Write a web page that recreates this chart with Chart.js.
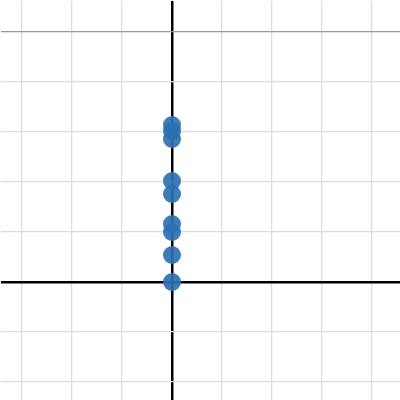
<!DOCTYPE html><html><head><style>html,body{margin:0;padding:0;background:#fff;overflow:hidden}#c{position:absolute;left:-8px;top:-8px;width:418px;height:418px}</style>
<script src="https://cdn.jsdelivr.net/npm/chart.js"></script></head><body><div id="c"><canvas id="cv"></canvas></div><script>
const xValues=[0,0,0,0,0,0,0,0,0];
const yValues=[0,0.54,1.0,1.16,1.76,2.02,2.86,3.02,3.14];
const intTicks=(a)=>{const t=[];for(let v=Math.ceil(a.min);v<=Math.floor(a.max);v++)t.push({value:v});a.ticks=t;};
const lw=c=>Math.abs(c.tick.value)<1e-6?2.5:1.3;
new Chart(document.getElementById('cv'),{type:'scatter',
data:{datasets:[{data:xValues.map((x,i)=>({x,y:yValues[i]})),backgroundColor:'rgba(45,112,179,0.92)',borderWidth:0,pointRadius:9,pointHoverRadius:9}]},
options:{responsive:true,maintainAspectRatio:false,animation:false,layout:{padding:0},
plugins:{legend:{display:false},tooltip:{enabled:false}},
scales:{x:{min:-3.42,max:4.58,afterBuildTicks:intTicks,ticks:{display:false},border:{display:false},
grid:{color:c=>Math.abs(c.tick.value)<1e-6?'#000':'#dcdcdc',lineWidth:lw,drawTicks:false}},
y:{min:-2.38,max:5.62,afterBuildTicks:intTicks,ticks:{display:false},border:{display:false},
grid:{color:c=>{const v=c.tick.value;return Math.abs(v)<1e-6?'#000':(Math.abs(v-5)<1e-6?'#999':'#dcdcdc')},lineWidth:lw,drawTicks:false}}}}});
</script></body></html>
